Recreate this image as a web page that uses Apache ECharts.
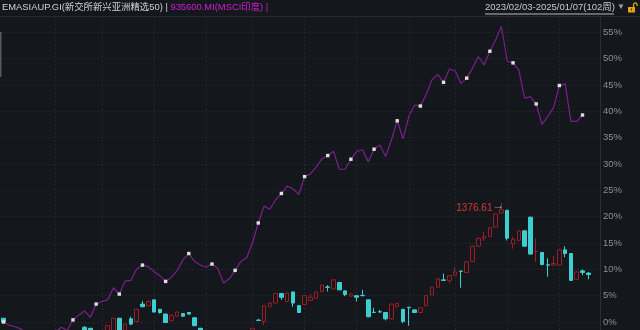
<!DOCTYPE html>
<html>
<head>
<meta charset="utf-8">
<script src="https://cdn.jsdelivr.net/npm/echarts@6/dist/echarts.min.js"></script>
<style>
  html, body { margin: 0; padding: 0; background: #14171c; }
  #main { width: 640px; height: 330px; }
</style>
</head>
<body>
<div id="main"></div>
<script>
// weekly bars, 2023/02/03 - 2025/01/07 (102 weeks)
const weeks = [];
for (let i = 1; i <= 102; i++) weeks.push('W' + i);

// EMASIAUP.GI weekly candles in % vs start: [open, close, low, high]
const asiaCandles = [
  [0.7, 0.0, -0.2, 0.8], [-2.2, -3.4, -3.8, -2.0], [-3.4, -4.5, -5.0, -3.0], [-4.5, -3.8, -4.8, -3.5],
  [-3.8, -5.2, -5.6, -3.5], [-5.2, -6.0, -6.5, -4.8], [-6.0, -5.1, -6.3, -4.9], [-5.1, -6.8, -7.2, -4.9],
  [-6.8, -5.9, -7.0, -5.5], [-5.9, -4.6, -6.1, -4.3], [-4.6, -3.5, -4.8, -3.1], [-3.5, -4.2, -4.6, -3.2],
  [-4.2, -3.0, -4.4, -2.6], [-3.0, -2.3, -3.3, -2.0], [-1.0, -2.6, -2.9, -0.8], [-1.2, -3.0, -3.3, -1.1],
  [-3.0, -3.6, -3.9, -2.0], [-3.6, -2.5, -3.8, -2.0], [-2.4, -0.7, -2.7, -0.6], [-2.2, 0.7, -2.4, 0.8],
  [0.7, -2.6, -2.8, 0.8], [-2.6, -0.4, -2.9, -0.3], [0.6, -0.4, -0.6, 1.0], [0.1, 2.4, -0.1, 2.5],
  [3.4, 2.9, 2.8, 4.0], [3.1, 3.9, 3.0, 4.1], [4.2, 1.9, 1.8, 4.3], [2.4, 1.8, 1.6, 2.5],
  [1.5, -0.1, -0.2, 1.6], [0.3, 1.2, 0.2, 1.5], [1.1, 1.9, 1.0, 2.0], [1.6, 1.1, 1.0, 1.7],
  [1.8, 1.5, 1.4, 1.9], [0.8, -0.7, -0.8, 0.9], [-1.2, -2.8, -3.0, -1.1], [-2.8, -3.5, -3.9, -2.2],
  [-3.5, -2.7, -3.7, -2.2], [-2.7, -4.0, -4.3, -2.4], [-4.0, -5.5, -5.8, -3.8], [-5.5, -4.6, -5.7, -4.3],
  [-4.6, -3.8, -4.9, -3.5], [-3.8, -2.9, -4.0, -2.5], [-2.9, -3.3, -3.6, -2.3], [-3.3, -1.2, -3.5, -1.1],
  [0.35, 0.3, 0.2, 0.6], [0.1, 3.1, -0.6, 3.2], [2.9, 3.6, 2.8, 3.7], [3.6, 5.4, 3.5, 5.5],
  [5.4, 4.7, 4.2, 5.5], [3.9, 5.5, 3.8, 5.6], [5.7, 3.6, 2.9, 5.8], [3.1, 1.8, 1.7, 3.2],
  [3.3, 5.0, 3.2, 5.1], [4.1, 4.7, 4.0, 5.3], [4.5, 5.7, 4.4, 5.8], [5.8, 7.0, 5.7, 7.1],
  [6.65, 6.6, 5.8, 7.0], [6.3, 8.0, 6.2, 8.1], [7.5, 6.1, 6.0, 7.6], [5.9, 5.2, 4.9, 6.0],
  [4.9, 5.3, 4.8, 5.4], [5.0, 4.7, 3.9, 5.1], [5.05, 5.0, 4.9, 6.1], [4.2, 1.0, 0.9, 4.3],
  [1.85, 1.8, 1.7, 2.7], [1.95, 1.9, 1.8, 2.3], [1.8, 0.6, 0.3, 1.9], [0.6, 3.4, 0.5, 3.5],
  [2.9, 3.5, 2.8, 3.6], [2.4, 0.1, -0.2, 2.5], [2.8, 2.7, -0.7, 2.8], [2.3, 1.8, 1.7, 2.4],
  [1.8, 2.7, 1.7, 2.8], [3.1, 5.0, 3.0, 5.1], [5.2, 6.6, 5.1, 6.7], [6.6, 8.2, 6.5, 8.3],
  [8.0, 7.9, 7.8, 9.2], [7.9, 8.8, 7.3, 8.9], [8.9, 9.5, 8.8, 10.4], [9.65, 9.6, 6.5, 9.7],
  [9.4, 11.4, 9.3, 11.5], [11.5, 14.4, 11.4, 14.5], [14.4, 15.9, 14.3, 16.0], [15.9, 16.2, 15.4, 17.1],
  [16.2, 17.9, 16.1, 18.0], [18.0, 20.5, 17.9, 20.6], [20.7, 21.3, 20.6, 22.6], [21.2, 15.9, 15.5, 21.3],
  [14.8, 15.7, 13.9, 16.2], [15.5, 17.3, 15.4, 17.4], [17.3, 14.4, 14.3, 17.4], [19.9, 12.9, 12.8, 20.0],
  [13.35, 13.4, 11.4, 15.9], [13.2, 10.9, 10.8, 13.3], [10.85, 10.8, 8.6, 12.1], [10.8, 11.1, 10.7, 12.5],
  [10.8, 13.7, 10.7, 13.8], [13.7, 13.0, 12.3, 14.4], [13.0, 7.9, 7.8, 13.1], [8.1, 9.5, 8.0, 9.6],
  [9.7, 9.4, 8.9, 10.0], [9.3, 9.0, 8.1, 9.4]
];

// 935600.MI weekly close in % vs start
const indiaPct = [
  0, -0.6, -0.9, -1.3, -2.2, -2.7, -2.5, -3.2, -2.2, -1.9,
  -1.0, -1.6, 0.4, 1.3, 2.1, 0.9, 3.4, 3.9, 4.2, 6.5,
  5.3, 7.8, 7.9, 10.0, 10.8, 10.5, 9.6, 8.8, 7.7, 8.5,
  9.8, 11.8, 13.0, 11.5, 10.8, 10.4, 11.0, 10.2, 7.4, 8.2,
  9.8, 11.5, 12.2, 15.0, 18.8, 22.0, 21.4, 23.2, 24.4, 25.8,
  25.3, 24.2, 27.6, 28.1, 29.4, 31.0, 31.6, 32.4, 29.0, 29.0,
  30.9, 32.4, 32.7, 30.4, 32.8, 33.6, 31.4, 34.6, 38.2, 34.8,
  39.0, 41.2, 41.0, 43.2, 46.0, 47.0, 45.5, 48.0, 47.7, 45.3,
  46.3, 48.2, 50.4, 48.8, 51.4, 53.6, 56.1, 49.5, 49.2, 47.8,
  42.5, 42.8, 41.4, 37.5, 39.0, 40.7, 44.9, 45.2, 38.1, 38.1,
  39.3
];

const peakLabel = '1376.61';
const gridWeeks = [9, 17, 26, 35, 43, 52, 61, 70, 78, 87, 96];

// visible value range of the plot (bottom edge cuts off just under 0%)
const yMin = -1.52;
const yMax = 58.0;

const BG = '#14171c';
const FONT = "'Liberation Sans','Noto Sans CJK SC',sans-serif";
const UP = '#9b1e24';
const DOWN = '#3dcfd0';
const GRIDLINE = '#22262d';

let chart = echarts.init(document.getElementById('main'));

let option = {
  backgroundColor: BG,
  animation: false,
  title: [
    {
      text: '{a|EMASIAUP.GI(新交所新兴亚洲精选50) | }{b|935600.MI(MSCI印度) |}',
      left: 2, top: 3, padding: 0, z: 10,
      textStyle: {
        fontWeight: 'normal',
        rich: {
          a: { color: '#cfd1d4', fontSize: 9.4, fontWeight: 'normal', fontFamily: FONT },
          b: { color: '#d21fd2', fontSize: 9.4, fontWeight: 'normal', fontFamily: FONT }
        }
      }
    },
    {
      text: '2023/02/03-2025/01/07(102周)',
      left: 485, top: 3, padding: 0, z: 10,
      textStyle: { color: '#c8cacd', fontSize: 9.5, fontWeight: 'normal', fontFamily: FONT }
    }
  ],
  graphic: [
    { type: 'rect', z: 5, shape: { x: 0, y: 0, width: 640, height: 16 }, style: { fill: BG } },
    { type: 'line', z: 5, shape: { x1: 0, y1: 16.5, x2: 640, y2: 16.5 }, style: { stroke: '#252930', lineWidth: 1 } },
    { type: 'line', z: 11, shape: { x1: 485, y1: 14, x2: 614, y2: 14 }, style: { stroke: '#b8babd', lineWidth: 1 } },
    { type: 'text', z: 11, x: 617, y: 3, style: { text: '▼', fill: '#9aa0a8', fontSize: 8, fontFamily: FONT } },
    { type: 'rect', z: 11, shape: { x: 628, y: 7, width: 7, height: 5.5 }, style: { fill: '#e6a117' } },
    { type: 'rect', z: 12, shape: { x: 631, y: 8.5, width: 1, height: 2 }, style: { fill: '#3a2a08' } },
    { type: 'polyline', z: 11,
      shape: { points: [[633.5, 7], [633.5, 4.5], [634.3, 3.2], [636.3, 3.2], [637.1, 4.5], [637.1, 6]] },
      style: { stroke: '#e6a117', fill: null, lineWidth: 1.2 } },
    { type: 'rect', z: 11, shape: { x: 0, y: 32, width: 1.5, height: 45 }, style: { fill: '#565a62' } }
  ],
  grid: [
    { left: 0.6, top: 16.5, width: 590.6, height: 313.5 },
    { left: 0.6, top: 16.5, width: 599.4, height: 313.5 }
  ],
  xAxis: [
    { type: 'category', gridIndex: 0, data: weeks, boundaryGap: true, show: false },
    { type: 'value', gridIndex: 1, min: 0, max: 1, show: false }
  ],
  yAxis: [
    { type: 'value', gridIndex: 0, min: yMin, max: yMax, show: false },
    {
      type: 'value', gridIndex: 1, position: 'right', min: yMin, max: yMax, splitNumber: 12,
      axisLine: { show: true, onZero: false, lineStyle: { color: '#2a2e35' } },
      axisTick: { show: false },
      axisLabel: {
        margin: 3, color: '#8b8f97', fontSize: 9.5, fontFamily: FONT,
        showMinLabel: false, showMaxLabel: false,
        formatter: v => (v % 5 !== 0 || v < 0) ? '' : v + '%'
      },
      splitLine: { show: true, lineStyle: { color: GRIDLINE, type: [2, 2] } }
    }
  ],
  series: [
    {
      // vertical dashed guides, kept under the candles
      type: 'line',
      xAxisIndex: 0, yAxisIndex: 0,
      data: [],
      z: 1,
      silent: true,
      markLine: {
        z: 1,
        silent: true,
        symbol: ['none', 'none'],
        label: { show: false },
        lineStyle: { color: GRIDLINE, type: [2, 2], width: 1 },
        data: gridWeeks.map(w => ({ xAxis: w }))
      }
    },
    {
      type: 'candlestick',
      xAxisIndex: 0, yAxisIndex: 0,
      data: asiaCandles,
      barWidth: 4,
      z: 3,
      itemStyle: {
        color: BG, color0: DOWN,
        borderColor: UP, borderColor0: DOWN, borderWidth: 1
      },
      markPoint: {
        symbol: 'circle', symbolSize: 0,
        data: [{ type: 'max', valueDim: 'highest' }],
        label: {
          show: true, position: 'left', distance: 0, offset: [3, 5],
          formatter: () => '{p|' + peakLabel + '}{a|→}',
          rich: {
            p: { color: '#d8363c', fontSize: 10, fontFamily: FONT },
            a: { color: '#9a9a9a', fontSize: 12, fontFamily: FONT, padding: [0, 0, 5, 0] }
          }
        }
      }
    },
    {
      type: 'line',
      xAxisIndex: 0, yAxisIndex: 0,
      data: indiaPct,
      z: 4,
      symbol: 'rect',
      showAllSymbol: true,
      symbolSize: (v, p) => (p.dataIndex % 4 === 0 ? 3.4 : 0),
      itemStyle: { color: '#e0e0e0' },
      lineStyle: { color: '#7a1f8c', width: 1.2 }
    }
  ]
};

chart.setOption(option);
</script>
</body>
</html>
